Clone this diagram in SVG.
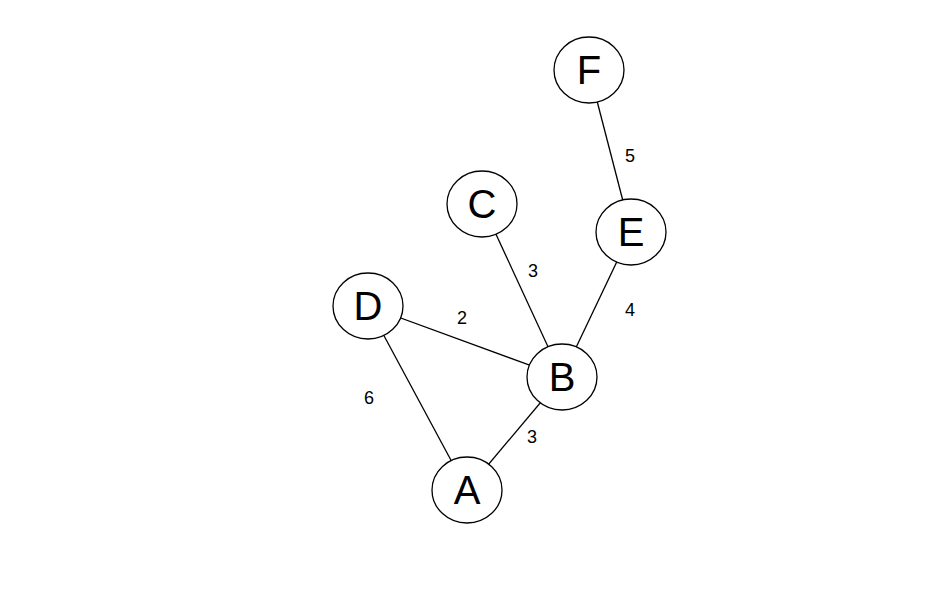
<svg xmlns="http://www.w3.org/2000/svg" width="941" height="615" viewBox="0 0 941 615">
<style>
.e{stroke:#000;stroke-width:1.3}
.n ellipse{fill:#fff;stroke:#000;stroke-width:1.3}
.n text{font-family:"Liberation Sans",Arial,sans-serif;font-size:40px;text-anchor:middle;dominant-baseline:central}
.l{font-family:"Liberation Sans",Arial,sans-serif;font-size:18px;text-anchor:middle;dominant-baseline:central}
</style>
<rect width="941" height="615" fill="#fff"/>
<g id="edges">
<line class="e" x1="589" y1="70" x2="631" y2="232"/>
<line class="e" x1="482" y1="204" x2="562" y2="377"/>
<line class="e" x1="368" y1="306" x2="562" y2="377"/>
<line class="e" x1="631" y1="232" x2="562" y2="377"/>
<line class="e" x1="467" y1="490" x2="562" y2="377"/>
<line class="e" x1="368" y1="306" x2="467" y2="490"/>
<text class="l" x="630" y="156">5</text>
<text class="l" x="533" y="271">3</text>
<text class="l" x="630" y="310">4</text>
<text class="l" x="462" y="318">2</text>
<text class="l" x="369" y="398">6</text>
<text class="l" x="532" y="437">3</text>
</g>
<g id="F" class="n"><ellipse cx="589" cy="70" rx="35" ry="33"/><text x="589" y="70">F</text></g>
<g id="C" class="n"><ellipse cx="482" cy="204" rx="35" ry="33"/><text x="482" y="204">C</text></g>
<g id="E" class="n"><ellipse cx="631" cy="232" rx="35" ry="33"/><text x="631" y="232">E</text></g>
<g id="D" class="n"><ellipse cx="368" cy="306" rx="35" ry="33"/><text x="368" y="306">D</text></g>
<g id="B" class="n"><ellipse cx="562" cy="377" rx="35" ry="33"/><text x="562" y="377">B</text></g>
<g id="A" class="n"><ellipse cx="467" cy="490" rx="35" ry="33"/><text x="467" y="490">A</text></g>
</svg>
